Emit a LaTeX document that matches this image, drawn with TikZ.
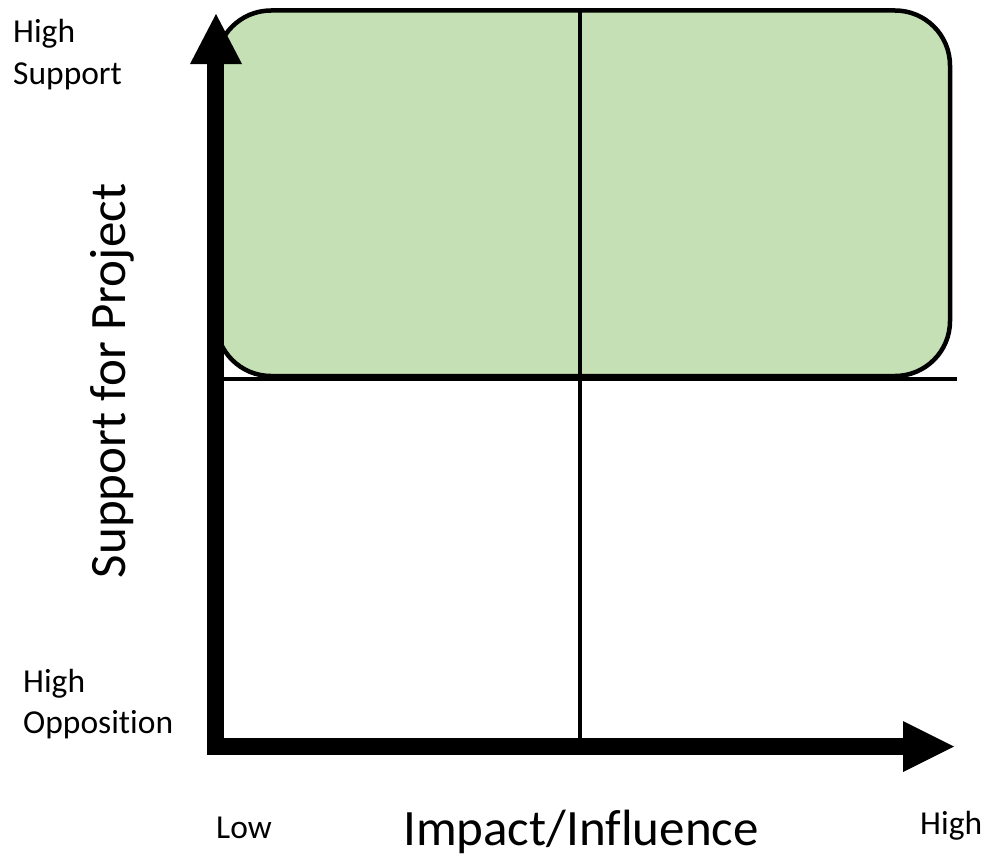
\documentclass[tikz,border=0pt]{standalone}
\usepackage{fontspec}
\setmainfont{Carlito}[Ligatures=NoCommon]
\definecolor{quadgreen}{HTML}{C5E0B4}
\begin{document}
\begin{tikzpicture}[x=1pt,y=-1pt,
  small/.style={font=\fontsize{33.5}{41}\selectfont, inner sep=0pt, align=left},
  big/.style={font=\fontsize{51}{60}\selectfont, inner sep=0pt},
  divider/.style={line width=4pt, draw=black},
  axisfill/.style={fill=black, draw=none}]
\useasboundingbox (0,0) rectangle (1000,859);
% highlighted region
\draw[fill=quadgreen, line width=4.5pt, rounded corners=55pt] (216,10.5) rectangle (950,376);
% dividers
\coordinate (vtop) at (580,10.5);
\coordinate (vbot) at (580,746);
\coordinate (hleft) at (215,378.5);
\coordinate (hright) at (957,378.5);
\draw[divider] (vtop) -- (vbot);
\draw[divider] (hleft) -- (hright);
% axes
\fill[axisfill] (207,755) rectangle (224,63);
\fill[axisfill] (190,64) -- (216,14) -- (242,64) -- cycle;
\fill[axisfill] (207,737.5) rectangle (904,755);
\fill[axisfill] (903,721) -- (954,746.5) -- (903,772) -- cycle;
% labels (base anchor = baseline of the last line)
\node[small, anchor=base west] (hs) at (13,84) {High\\Support};
\node[small, anchor=base west] (ho) at (23,733) {High\\Opposition};
\node[small, anchor=base west] (low) at (216,838) {Low};
\node[small, anchor=base west] (high) at (920,834) {High};
\node[big, anchor=base] (xl) at (581,845) {Impact/Influence};
\node[big, anchor=base, rotate=90] (yl) at (125,381) {Support for Project};
\end{tikzpicture}
\end{document}
